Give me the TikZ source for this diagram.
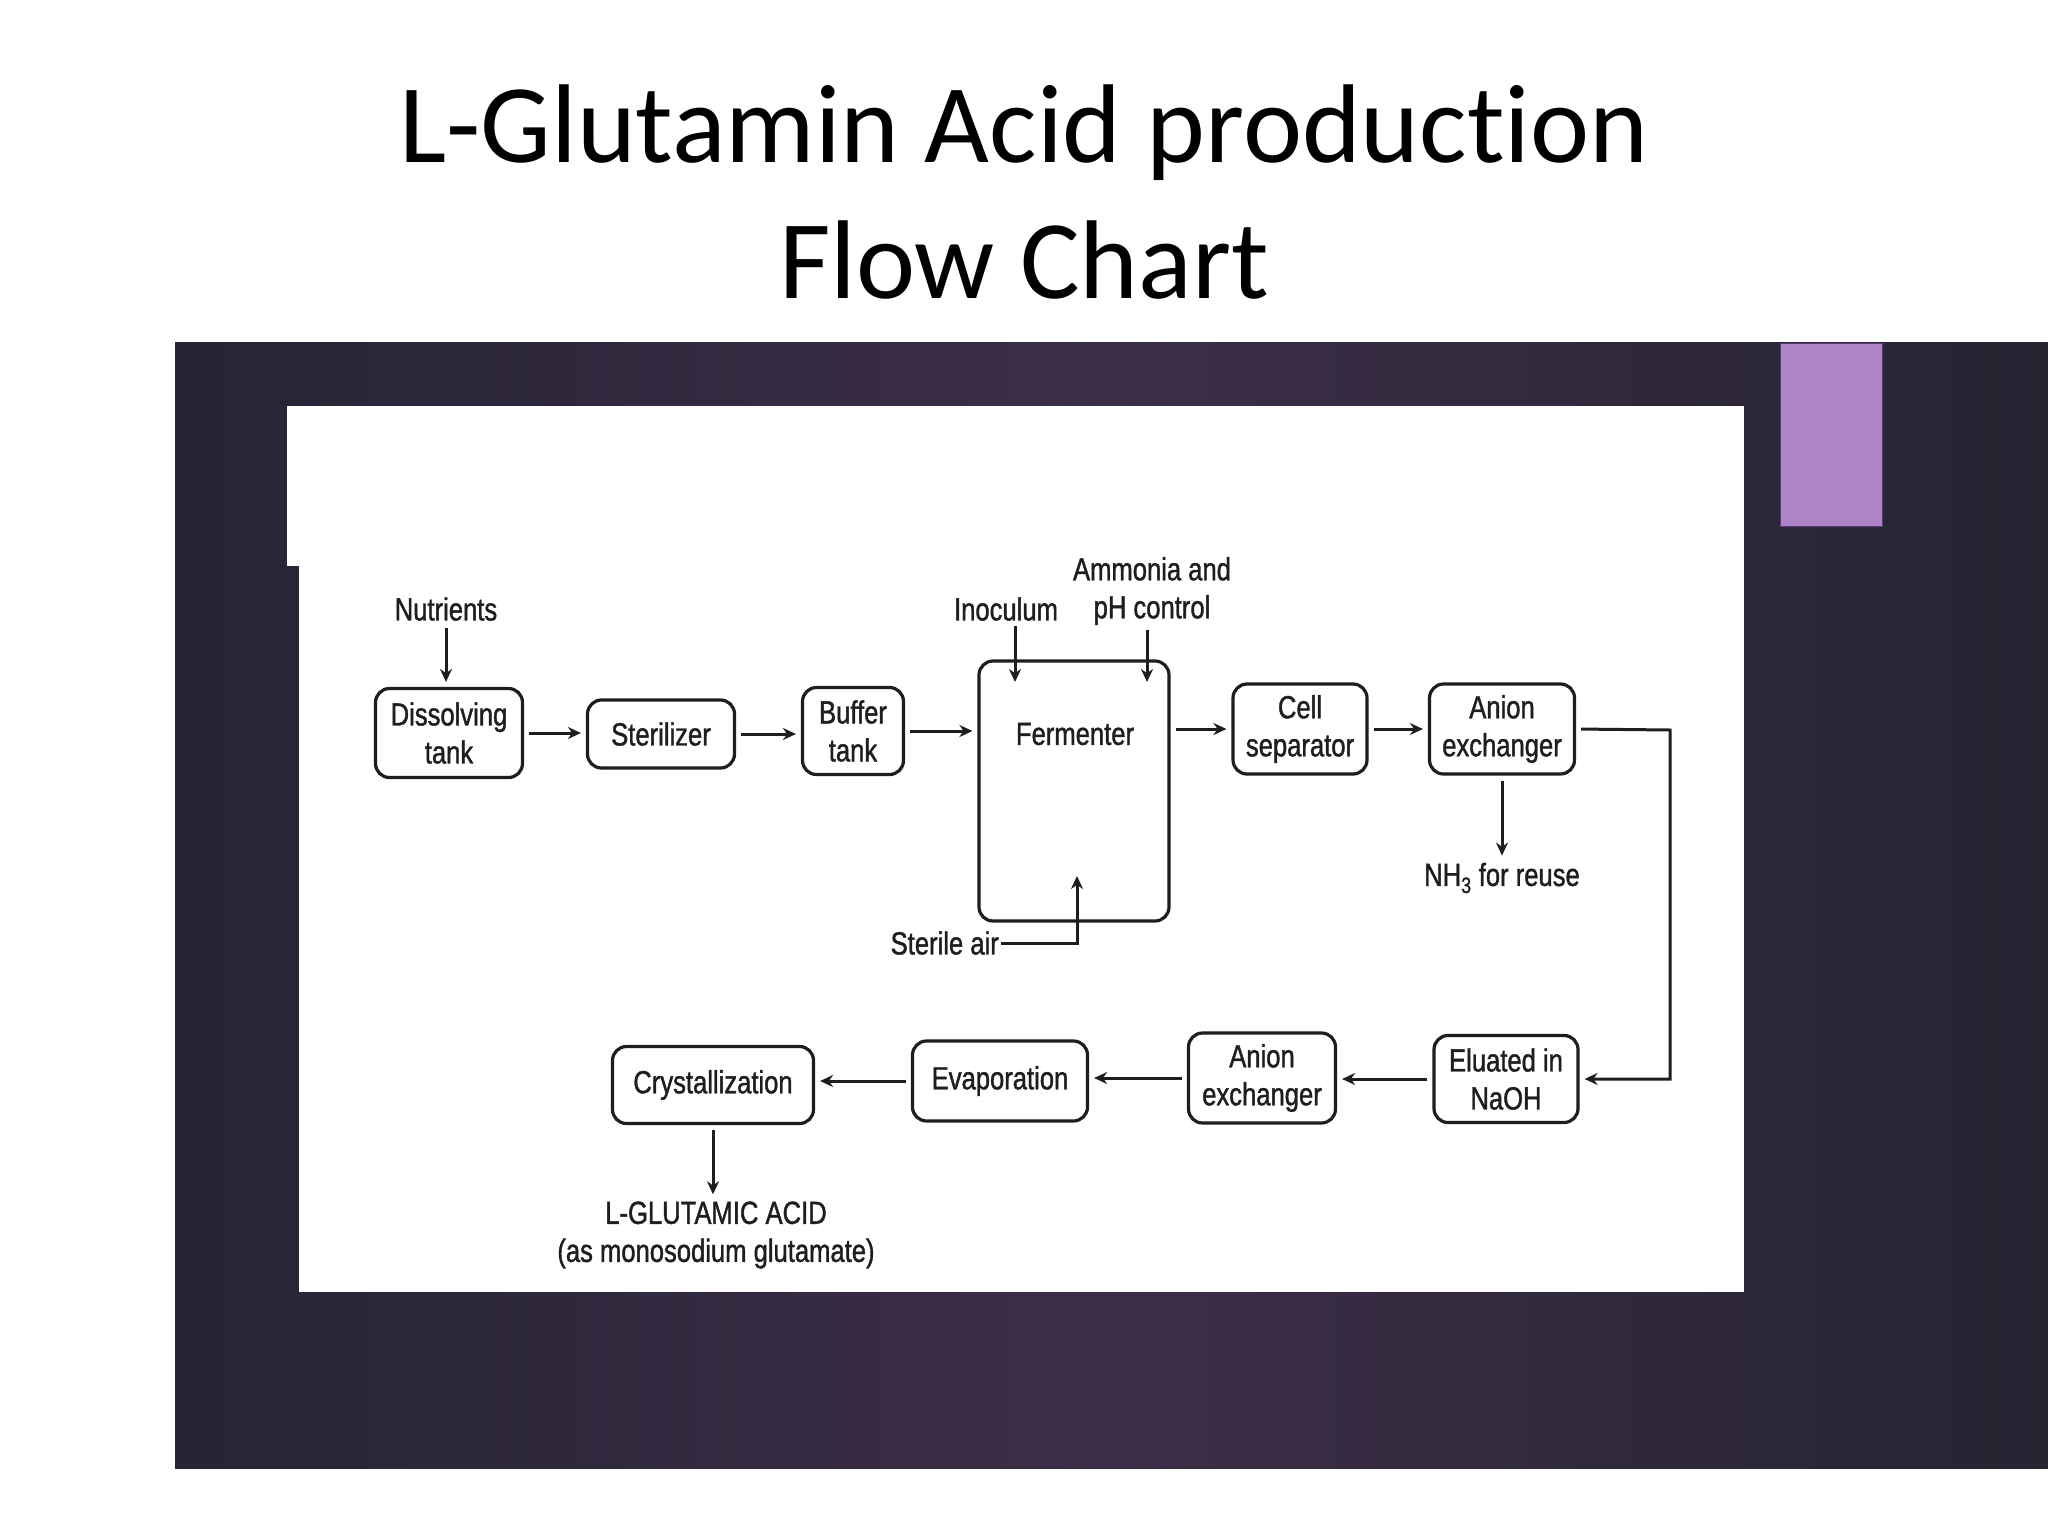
\documentclass[tikz,border=0pt]{standalone}
\usepackage{fontspec}
\setmainfont[Ligatures=NoCommon]{Carlito}
\newfontfamily\dfont[FakeStretch=0.8,FakeBold=1.2]{Liberation Sans}
\usetikzlibrary{arrows.meta}
\definecolor{panelL}{HTML}{262435}
\definecolor{panelM}{HTML}{3C2E48}
\definecolor{panelR}{HTML}{252431}
\definecolor{lilac}{HTML}{AD84C6}
\definecolor{lilacEdge}{HTML}{5A3A78}
\definecolor{ink}{HTML}{1E1E1E}
\begin{document}
\begin{tikzpicture}[x=1pt,y=-1pt,
  proc/.style={draw=ink, line width=3.2pt, rounded corners=14pt,
    font=\dfont\fontsize{32}{38}\selectfont, text=ink, align=center, inner sep=0pt},
  lab/.style={font=\dfont\fontsize{32}{38}\selectfont, text=ink, align=center, inner sep=2pt},
  flow/.style={draw=ink, line width=3pt, -{Stealth[length=13pt,width=12pt]}},
  gap/.style={shorten <=5pt, shorten >=5pt},
  title/.style={font=\fontsize{112}{135}\selectfont, text=black, anchor=base, inner sep=0pt}]
\useasboundingbox (0,0) rectangle (2048,1536);
\fill[white] (0,0) rectangle (2048,1536);
% dark slide panel
\shade[left color=panelL, right color=panelR, middle color=panelM] (175,342) rectangle (2048,1468);
% lilac tab
\fill[lilac, draw=lilacEdge, line width=1pt] (1780,343) rectangle (1882,526);
% white image panels
\fill[white] (287,406) rectangle (1744,566);
\fill[white] (299,566) rectangle (1744,1292);
% title
\node[title] (t1) at (1024,163) {L-Glutamin Acid produc\mbox{}t\mbox{}ion};
\node[title] (t2) at (1024,298) {Flow Chart};
% process boxes
\node[proc, minimum width=147pt, minimum height=89pt] (dis) at (449,733) {Dissolving\\tank};
\node[proc, minimum width=147pt, minimum height=68pt] (ster) at (661,734) {Sterilizer};
\node[proc, minimum width=101pt, minimum height=87pt] (buf) at (853,731) {Buffer\\tank};
\node[proc, minimum width=190pt, minimum height=260pt] (ferm) at (1074,791) {};
\node[lab] (fermt) at (1075,734) {Fermenter};
\node[proc, minimum width=134pt, minimum height=90pt] (cell) at (1300,729) {Cell\\separator};
\node[proc, minimum width=145pt, minimum height=90pt] (an1) at (1502,729) {Anion\\exchanger};
\node[proc, minimum width=144pt, minimum height=87pt] (elu) at (1506,1079) {Eluated in\\NaOH};
\node[proc, minimum width=147pt, minimum height=90pt] (an2) at (1262,1078) {Anion\\exchanger};
\node[proc, minimum width=175pt, minimum height=80pt] (evap) at (1000,1081) {Evaporation};
\node[proc, minimum width=201pt, minimum height=77pt] (cry) at (713,1085) {Crystallization};
% labels
\node[lab] (nut) at (446,609) {Nutrients};
\node[lab] (inoc) at (1006,609) {Inoculum};
\node[lab] (amm) at (1152,591) {Ammonia and\\pH control};
\node[lab] (nh3) at (1502,878) {NH\textsubscript{3} for reuse};
\node[lab, anchor=east] (sair) at (1001,943) {Sterile air};
\node[lab] (glu) at (716,1235) {L-GLUTAMIC ACID\\(as monosodium glutamate)};
% free ends
\coordinate (inEnd) at (1015,682);
\coordinate (amEnd) at (1147,682);
\coordinate (airEnd) at (1077,876);
\coordinate (turn) at (1670,730);
% connectors
\draw[flow, gap] (nut.south) -- (nut.south |- dis.north);
\draw[flow, gap] (dis.east) -- (dis.east -| ster.west);
\draw[flow, gap] (ster.east) -- (ster.east -| buf.west);
\draw[flow, gap] (buf.east) -- (buf.east -| ferm.west);
\draw[flow, gap] (cell.west -| ferm.east) -- (cell.west);
\draw[flow, gap] (cell.east) -- (an1.west);
\draw[flow, shorten <=3pt] (inoc.south -| inEnd) -- (inEnd);
\draw[flow, shorten <=3pt] (amm.south -| amEnd) -- (amEnd);
\draw[flow] (sair.east) -| (airEnd);
\draw[flow, gap] (an1.south) -- (nh3.north);
\draw[flow, gap] (an1.east) -- (turn) |- (elu.east);
\draw[flow, gap] (elu.west) -- (elu.west -| an2.east);
\draw[flow, gap] (an2.west) -- (an2.west -| evap.east);
\draw[flow, gap] (evap.west) -- (evap.west -| cry.east);
\draw[flow, gap] (cry.south) -- (cry.south |- glu.north);
\end{tikzpicture}
\end{document}
